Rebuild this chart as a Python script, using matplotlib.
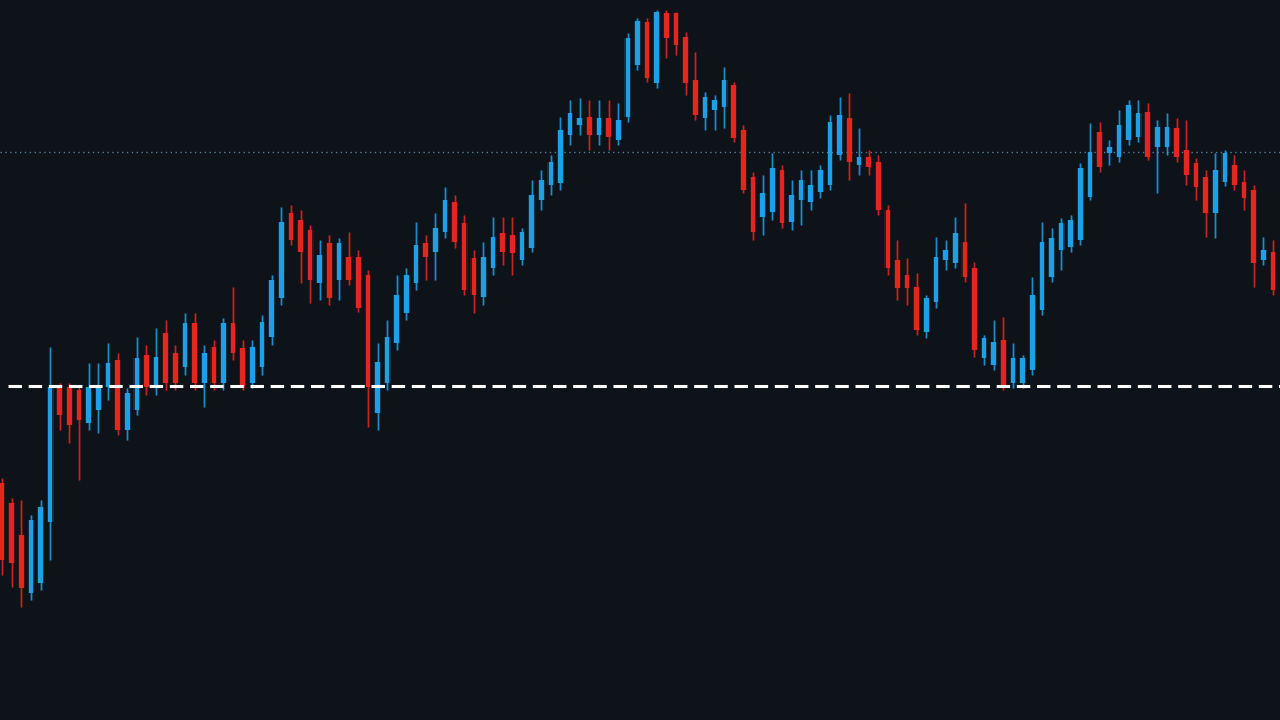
import numpy as np
import matplotlib
matplotlib.use("Agg")
import matplotlib.pyplot as plt

#OHLC values, one entry per candle (left to right)
opens = [237, 217, 185, 127, 137, 198, 333, 333, 330, 297, 310, 333, 360, 290, 310, 365, 333, 387, 367, 353,
         397, 337, 373, 337, 397, 372, 337, 353, 383, 422, 507, 500, 490, 437, 477, 440, 463, 463, 445, 307,
         337, 377, 407, 437, 477, 468, 488, 518, 497, 462, 423, 452, 487, 485, 460, 472, 520, 535, 537, 585,
         595, 603, 585, 602, 580, 603, 655, 698, 637, 707, 707, 683, 640, 602, 610, 613, 635, 590, 543, 503,
         508, 550, 498, 520, 518, 528, 535, 565, 602, 555, 563, 558, 510, 460, 445, 433, 388, 418, 460, 457,
         478, 452, 362, 355, 380, 337, 337, 350, 410, 443, 470, 473, 480, 523, 588, 567, 563, 580, 583, 608,
         573, 573, 592, 570, 557, 543, 507, 538, 555, 538, 530, 460, 468]
highs = [242, 222, 220, 205, 220, 373, 337, 337, 335, 357, 357, 377, 367, 332, 383, 375, 392, 400, 375, 407,
         407, 375, 380, 402, 433, 380, 380, 405, 445, 513, 515, 510, 495, 480, 485, 482, 488, 470, 450, 377,
         400, 445, 452, 498, 485, 507, 533, 525, 505, 470, 478, 503, 503, 503, 492, 540, 550, 565, 603, 620,
         622, 620, 620, 620, 617, 687, 702, 702, 710, 710, 708, 688, 668, 628, 625, 653, 638, 595, 548, 545,
         567, 555, 540, 550, 550, 555, 605, 623, 627, 592, 570, 565, 515, 480, 462, 447, 425, 483, 480, 503,
         517, 458, 385, 400, 403, 377, 365, 443, 498, 492, 502, 505, 557, 597, 598, 580, 610, 620, 620, 617,
         600, 607, 602, 600, 562, 550, 567, 570, 565, 550, 535, 483, 480]
lows = [145, 133, 113, 120, 130, 160, 290, 277, 240, 290, 287, 320, 285, 280, 305, 325, 325, 330, 330, 345,
        330, 313, 330, 330, 360, 330, 332, 345, 375, 415, 475, 437, 417, 420, 415, 420, 435, 408, 293, 290,
        330, 370, 400, 430, 440, 440, 482, 472, 425, 407, 415, 445, 455, 445, 455, 468, 510, 525, 530, 575,
        585, 570, 575, 570, 575, 598, 650, 638, 632, 662, 665, 625, 600, 590, 590, 592, 578, 527, 480, 485,
        500, 492, 490, 495, 510, 522, 530, 560, 540, 545, 545, 505, 445, 420, 415, 385, 382, 412, 450, 452,
        438, 363, 355, 350, 330, 332, 332, 345, 405, 438, 450, 468, 475, 520, 548, 555, 558, 575, 578, 560,
        527, 565, 558, 535, 520, 483, 482, 534, 530, 510, 433, 455, 425]
closes = [160, 157, 132, 200, 213, 333, 305, 295, 300, 333, 333, 357, 290, 327, 362, 333, 363, 337, 337, 397,
          337, 367, 337, 397, 367, 333, 373, 398, 440, 498, 480, 468, 440, 465, 422, 477, 440, 412, 333, 358,
          383, 425, 445, 475, 463, 492, 520, 478, 430, 425, 463, 483, 468, 467, 488, 525, 540, 558, 590, 607,
          602, 585, 602, 583, 600, 682, 699, 642, 708, 682, 675, 637, 605, 623, 620, 640, 582, 530, 488, 527,
          552, 497, 525, 540, 535, 550, 598, 605, 558, 563, 553, 510, 452, 432, 432, 390, 422, 463, 470, 487,
          443, 370, 382, 378, 333, 362, 362, 425, 478, 482, 497, 500, 552, 568, 553, 573, 595, 615, 607, 563,
          593, 593, 563, 545, 533, 507, 550, 567, 535, 522, 457, 470, 430]

support_level = 334    #white dashed line
resistance_level = 568 #thin dotted line

opens = np.array(opens)
highs = np.array(highs)
lows = np.array(lows)
closes = np.array(closes)
idx = np.arange(len(opens))

bg = "#0e1219"
up_col = "#1e9fe6"
down_col = "#e5261f"
colors = np.where(closes >= opens, up_col, down_col)

fig = plt.figure(figsize=(12.8, 7.2), dpi=100, facecolor=bg)
ax = fig.add_axes([0, 0, 1, 1])
ax.set_facecolor(bg)

#soft glow behind each candle, the reference is slightly blurred
ax.vlines(idx, lows, highs, colors=colors, linewidth=2.2, alpha=0.2, zorder=2)
ax.vlines(idx, lows, highs, colors=colors, linewidth=1.0, alpha=0.85, zorder=3)
body_bottom = np.minimum(opens, closes)
body_height = np.maximum(np.abs(closes - opens), 2)
ax.bar(idx, body_height, bottom=body_bottom, width=0.7, color=colors, alpha=0.2, zorder=3)
ax.bar(idx, body_height, bottom=body_bottom, width=0.48, color=colors, zorder=4)

#horizontal levels
ax.axhline(resistance_level, color="#54809f", linewidth=1.0, linestyle=(0, (1, 2.5)), zorder=1)
ax.axhline(support_level, xmin=8 / 1280, color="white", linewidth=2.2, dashes=(4.4, 2.2), zorder=5)

ax.set_xlim(-0.21, len(opens) - 1 + 0.73)
ax.set_ylim(0, 720)
ax.axis("off")

fig.savefig("out.png", dpi=100, facecolor=bg)
